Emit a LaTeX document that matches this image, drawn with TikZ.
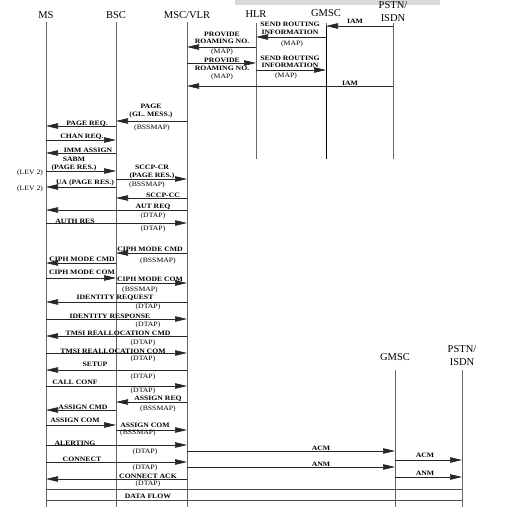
\documentclass[tikz,border=0pt]{standalone}
\usepackage{fontspec}
\setmainfont{Liberation Serif}
\newfontfamily\msgfont[FakeStretch=1.15]{Liberation Serif}
\usetikzlibrary{arrows.meta}

\tikzset{
    head/.style={font=\fontsize{10.5}{13}\selectfont, align=center, inner sep=0pt},
    lbl/.style={font=\msgfont\fontsize{6.7}{7.4}\selectfont\bfseries, align=center, inner sep=0pt},
    sub/.style={font=\msgfont\fontsize{6.7}{7.4}\selectfont, inner sep=0pt},
    life/.style={black!60, line width=0.6pt},
    msg/.style={black!85, line width=0.6pt, -{Triangle[length=12pt,width=5.5pt]}}
}

\begin{document}
\begin{tikzpicture}[x=1pt, y=-1pt]

    \useasboundingbox (0,0) rectangle (511,517);
    \fill[black!15] (235,0) rectangle (440,5);

    % Entities
    \node[head] (ms)   at (46,15)  {MS};
    \node[head] (bsc)  at (116,15) {BSC};
    \node[head] (msc)  at (187,15) {MSC/VLR};
    \node[head] (hlr)  at (256,14) {HLR};
    \node[head] (gmsc) at (326,13) {GMSC};
    \node[head] (pstn) at (393,12) {PSTN/\\ISDN};

    \node[head] (gmscb) at (395,357) {GMSC};
    \node[head] (pstnb) at (462,356) {PSTN/\\ISDN};

    % Lifelines
    \foreach \n in {ms,bsc,msc}
        \draw[life] (\n|-0,22) -- (\n|-0,507);
    \foreach \n in {hlr,gmsc,pstn}
        \draw[life] (\n|-0,23) -- (\n|-0,159);
    \draw[life, black] (gmsc|-0,26) -- (gmsc|-0,159);
    \foreach \n in {gmscb,pstnb}
        \draw[life] (\n|-0,370) -- (\n|-0,507);

    % Messages
    \foreach \a/\b/\y in {pstn/gmsc/26, gmsc/hlr/37, hlr/msc/47, msc/hlr/63,
        hlr/gmsc/70, pstn/msc/86, msc/bsc/121, bsc/ms/126, ms/bsc/140,
        bsc/ms/153, ms/bsc/171, bsc/msc/179, bsc/ms/187, msc/bsc/198,
        msc/ms/210, ms/msc/223, msc/bsc/253, bsc/ms/263, ms/bsc/278,
        bsc/msc/283, msc/ms/302, ms/msc/319, msc/ms/336, ms/msc/353,
        msc/ms/370, ms/msc/386, msc/bsc/402, bsc/ms/410, ms/bsc/425,
        bsc/msc/430, ms/msc/445, msc/gmscb/451, gmscb/pstnb/460,
        ms/msc/462, msc/gmscb/467, gmscb/pstnb/477, msc/ms/479}
        \draw[msg] (\a|-0,\y) -- (\b|-0,\y);

    \draw[black!70, line width=0.6pt] (ms|-0,489) -- (pstnb|-0,489);
    \draw[black!70, line width=0.6pt] (ms|-0,500) -- (pstnb|-0,500);

    % Message names
    \foreach \n/\x/\y/\t in {iama/355/21/IAM, srIa/290/28.5/{SEND ROUTING\\INFORMATION},
        prna/222/38/{PROVIDE\\ROAMING NO.}, prnb/222/64.5/{PROVIDE\\ROAMING NO.},
        srIb/290/62/{SEND ROUTING\\INFORMATION}, iamb/350/83/IAM,
        page/151/111/{PAGE\\(GL. MESS.)}, pagereq/87/124/PAGE REQ.,
        chanreq/82/137/CHAN REQ., imm/88/150/IMM ASSIGN,
        sabm/74/164/{SABM\\(PAGE RES.)}, sccpcr/152/172/{SCCP-CR\\(PAGE RES.)},
        ua/85/183/UA (PAGE RES.), sccpcc/163/195/SCCP-CC,
        autreq/153/207/AUT REQ, autres/75/221/AUTH  RES,
        ciphcmda/150/249/CIPH MODE CMD, ciphcmdb/82/259/CIPH MODE CMD,
        ciphcoma/82/272/CIPH MODE COM, ciphcomb/150/279/CIPH MODE COM,
        idreq/115/298/IDENTITY REQUEST, idres/110/316/IDENTITY RESPONSE,
        tmsicmd/118/333/TMSI REALLOCATION CMD, tmsicom/113/351/TMSI REALLOCATION COM,
        setup/95/364/SETUP, callconf/75/382/CALL CONF,
        asgreq/158/399/ASSIGN REQ, asgcmd/83/407/ASSIGN CMD,
        asgcoma/75/420/ASSIGN COM, asgcomb/145/425/ASSIGN COM,
        alert/75/443/ALERTING, connect/82/459/CONNECT,
        conack/148/476/CONNECT ACK, dataflow/148/496/DATA FLOW,
        acma/321/448/ACM, anma/321/464/ANM, acmb/425/455/ACM, anmb/425/473/ANM}
        \node[lbl] (\n) at (\x,\y) {\t};

    % Protocols
    \foreach \n/\x/\y/\t in {mapa/292/44/(MAP), mapb/222/52/(MAP), mapc/222/77/(MAP),
        mapd/286/76/(MAP), bssa/152/128/(BSSMAP), lev1/30/173/(LEV 2),
        lev2/30/189/(LEV 2), bssb/147/185/(BSSMAP), dtapa/153/216/(DTAP),
        dtapb/153/229/(DTAP), bssc/158/261/(BSSMAP), bssd/140/290/(BSSMAP),
        dtapc/148/307/(DTAP), dtapd/148/325/(DTAP), dtape/143/343/(DTAP),
        dtapf/143/359/(DTAP), dtapg/143/377/(DTAP), dtaph/143/391/(DTAP),
        bsse/158/409/(BSSMAP), bssf/138/433/(BSSMAP), dtapi/145/452/(DTAP),
        dtapj/145/468/(DTAP), dtapk/148/484/(DTAP)}
        \node[sub] (\n) at (\x,\y) {\t};

\end{tikzpicture}
\end{document}
